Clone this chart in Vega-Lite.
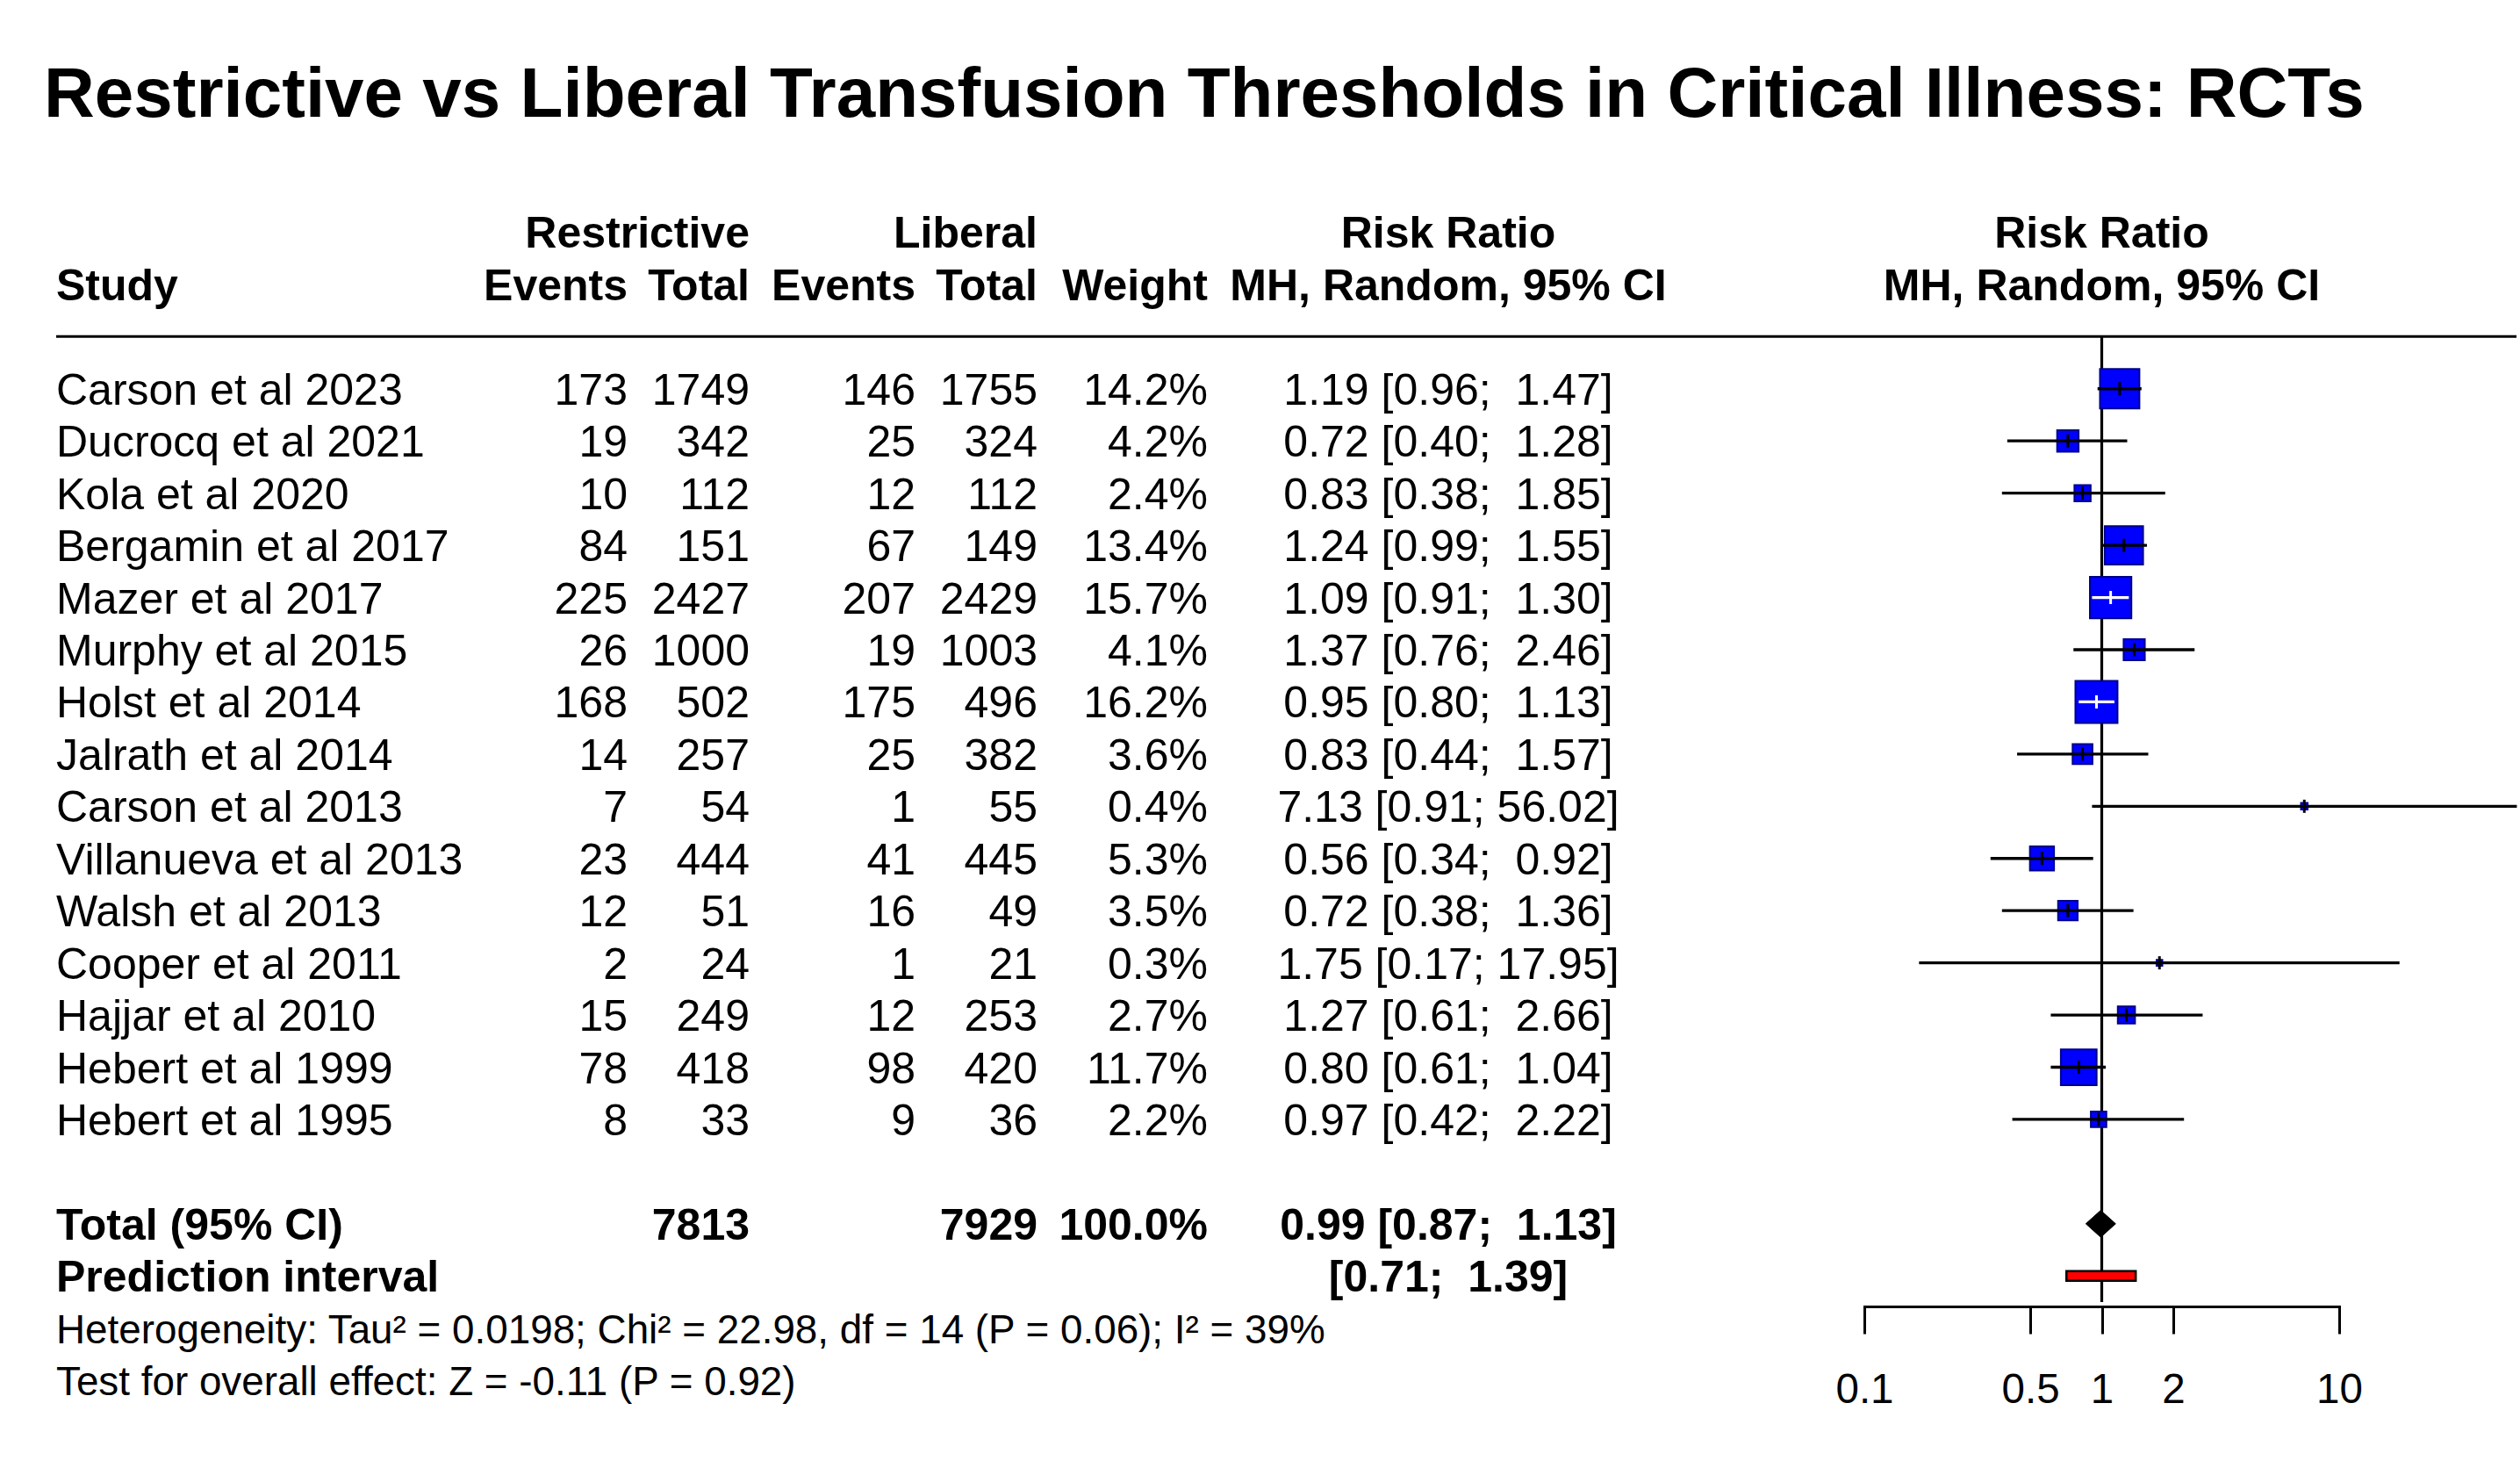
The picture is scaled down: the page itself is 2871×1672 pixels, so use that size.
{
  "$schema": "https://vega.github.io/schema/vega-lite/v6.json",
  "width": 2871,
  "height": 1288,
  "autosize": {"type": "none"},
  "padding": {"top": 200, "left": 0, "right": 0, "bottom": 184},
  "background": "white",
  "config": {"view": {"stroke": null}},
  "title": {
    "text": "Restrictive vs Liberal Transfusion Thresholds in Critical Illness: RCTs",
    "anchor": "start",
    "frame": "group",
    "dx": 50,
    "offset": 50,
    "font": "Liberation Sans",
    "fontSize": 80,
    "fontWeight": "bold",
    "color": "black"
  },
  "datasets": {
    "studies": [
      {"row": 1, "study": "Carson et al 2023", "ev_r": 173, "tot_r": 1749, "ev_l": 146, "tot_l": 1755, "weight": 14.2, "rr": 1.19, "lower": 0.96, "upper": 1.47},
      {"row": 2, "study": "Ducrocq et al 2021", "ev_r": 19, "tot_r": 342, "ev_l": 25, "tot_l": 324, "weight": 4.2, "rr": 0.72, "lower": 0.40, "upper": 1.28},
      {"row": 3, "study": "Kola et al 2020", "ev_r": 10, "tot_r": 112, "ev_l": 12, "tot_l": 112, "weight": 2.4, "rr": 0.83, "lower": 0.38, "upper": 1.85},
      {"row": 4, "study": "Bergamin et al 2017", "ev_r": 84, "tot_r": 151, "ev_l": 67, "tot_l": 149, "weight": 13.4, "rr": 1.24, "lower": 0.99, "upper": 1.55},
      {"row": 5, "study": "Mazer et al 2017", "ev_r": 225, "tot_r": 2427, "ev_l": 207, "tot_l": 2429, "weight": 15.7, "rr": 1.09, "lower": 0.91, "upper": 1.30},
      {"row": 6, "study": "Murphy et al 2015", "ev_r": 26, "tot_r": 1000, "ev_l": 19, "tot_l": 1003, "weight": 4.1, "rr": 1.37, "lower": 0.76, "upper": 2.46},
      {"row": 7, "study": "Holst et al 2014", "ev_r": 168, "tot_r": 502, "ev_l": 175, "tot_l": 496, "weight": 16.2, "rr": 0.95, "lower": 0.80, "upper": 1.13},
      {"row": 8, "study": "Jalrath et al 2014", "ev_r": 14, "tot_r": 257, "ev_l": 25, "tot_l": 382, "weight": 3.6, "rr": 0.83, "lower": 0.44, "upper": 1.57},
      {"row": 9, "study": "Carson et al 2013", "ev_r": 7, "tot_r": 54, "ev_l": 1, "tot_l": 55, "weight": 0.4, "rr": 7.13, "lower": 0.91, "upper": 56.02},
      {"row": 10, "study": "Villanueva et al 2013", "ev_r": 23, "tot_r": 444, "ev_l": 41, "tot_l": 445, "weight": 5.3, "rr": 0.56, "lower": 0.34, "upper": 0.92},
      {"row": 11, "study": "Walsh et al 2013", "ev_r": 12, "tot_r": 51, "ev_l": 16, "tot_l": 49, "weight": 3.5, "rr": 0.72, "lower": 0.38, "upper": 1.36},
      {"row": 12, "study": "Cooper et al 2011", "ev_r": 2, "tot_r": 24, "ev_l": 1, "tot_l": 21, "weight": 0.3, "rr": 1.75, "lower": 0.17, "upper": 17.95},
      {"row": 13, "study": "Hajjar et al 2010", "ev_r": 15, "tot_r": 249, "ev_l": 12, "tot_l": 253, "weight": 2.7, "rr": 1.27, "lower": 0.61, "upper": 2.66},
      {"row": 14, "study": "Hebert et al 1999", "ev_r": 78, "tot_r": 418, "ev_l": 98, "tot_l": 420, "weight": 11.7, "rr": 0.80, "lower": 0.61, "upper": 1.04},
      {"row": 15, "study": "Hebert et al 1995", "ev_r": 8, "tot_r": 33, "ev_l": 9, "tot_l": 36, "weight": 2.2, "rr": 0.97, "lower": 0.42, "upper": 2.22}
    ],
    "summary": [
      {"row": 17, "label": "Total (95% CI)", "tot_r": 7813, "tot_l": 7929, "weight": 100, "rr": 0.99, "lower": 0.87, "upper": 1.13},
      {"row": 18, "label": "Prediction interval", "lower": 0.71, "upper": 1.39}
    ],
    "headers": [
      {"row": -2, "label": "Restrictive", "col": "tot_r"},
      {"row": -2, "label": "Liberal", "col": "tot_l"},
      {"row": -2, "label": "Risk Ratio", "col": "rr"},
      {"row": -2, "label": "Risk Ratio", "col": "plot"},
      {"row": -1, "label": "Study", "col": "study"},
      {"row": -1, "label": "Events", "col": "ev_r"},
      {"row": -1, "label": "Total", "col": "tot_r"},
      {"row": -1, "label": "Events", "col": "ev_l"},
      {"row": -1, "label": "Total", "col": "tot_l"},
      {"row": -1, "label": "Weight", "col": "wt"},
      {"row": -1, "label": "MH, Random, 95% CI", "col": "rr"},
      {"row": -1, "label": "MH, Random, 95% CI", "col": "plot"}
    ],
    "notes": [
      {"row": 19, "label": "Heterogeneity: Tau² = 0.0198; Chi² = 22.98, df = 14 (P = 0.06); I² = 39%"},
      {"row": 20, "label": "Test for overall effect: Z = -0.11 (P = 0.92)"}
    ]
  },
  "layer": [
    {
      "layer": [
        {
          "data": {"values": [{}]},
          "mark": {"type": "rule", "strokeWidth": 3, "color": "black"},
          "encoding": {
            "x": {"datum": 0, "type": "quantitative", "scale": {"domain": [0, 1, 2, 3, 4, 5, 6, 7], "range": [64, 715, 854, 1043, 1182, 1376, 1650, 2867], "nice": false, "zero": false}, "axis": null},
            "x2": {"datum": 7},
            "y": {"datum": 0, "type": "quantitative", "scale": {"domain": [-3, 18.5], "reverse": true, "nice": false, "zero": false}, "axis": null}
          }
        },
        {
          "data": {"name": "headers"},
          "transform": [
            {"filter": "datum.col === 'study'"},
            {"calculate": "indexof(['study','ev_r','tot_r','ev_l','tot_l','wt','rr','end'], datum.col)", "as": "ci"}
          ],
          "mark": {"type": "text", "align": "left", "baseline": "middle", "dy": 3, "font": "Liberation Sans", "fontSize": 50, "fontWeight": "bold", "color": "black"},
          "encoding": {
            "x": {"field": "ci", "type": "quantitative", "axis": null},
            "y": {"field": "row", "type": "quantitative", "scale": {"domain": [-3, 18.5], "reverse": true, "nice": false, "zero": false}, "axis": null},
            "text": {"field": "label", "type": "nominal"}
          }
        },
        {
          "data": {"name": "headers"},
          "transform": [
            {"filter": "indexof(['ev_r','tot_r','ev_l','tot_l','wt'], datum.col) >= 0"},
            {"calculate": "indexof(['study','ev_r','tot_r','ev_l','tot_l','wt','rr','end'], datum.col)", "as": "ci"}
          ],
          "mark": {"type": "text", "align": "right", "baseline": "middle", "dy": 3, "font": "Liberation Sans", "fontSize": 50, "fontWeight": "bold", "color": "black"},
          "encoding": {
            "x": {"field": "ci", "type": "quantitative", "axis": null},
            "y": {"field": "row", "type": "quantitative", "scale": {"domain": [-3, 18.5], "reverse": true, "nice": false, "zero": false}, "axis": null},
            "text": {"field": "label", "type": "nominal"}
          }
        },
        {
          "data": {"name": "headers"},
          "transform": [
            {"filter": "datum.col === 'rr'"},
            {"calculate": "indexof(['study','ev_r','tot_r','ev_l','tot_l','wt','rr','end'], datum.col)", "as": "ci"}
          ],
          "mark": {"type": "text", "align": "center", "baseline": "middle", "dy": 3, "font": "Liberation Sans", "fontSize": 50, "fontWeight": "bold", "color": "black"},
          "encoding": {
            "x": {"field": "ci", "type": "quantitative", "axis": null},
            "y": {"field": "row", "type": "quantitative", "scale": {"domain": [-3, 18.5], "reverse": true, "nice": false, "zero": false}, "axis": null},
            "text": {"field": "label", "type": "nominal"}
          }
        },
        {
          "data": {"name": "studies"},
          "mark": {"type": "text", "align": "left", "baseline": "middle", "dy": 3, "font": "Liberation Sans", "fontSize": 50, "color": "black"},
          "encoding": {
            "x": {"datum": 0, "type": "quantitative", "axis": null},
            "y": {"field": "row", "type": "quantitative", "scale": {"domain": [-3, 18.5], "reverse": true, "nice": false, "zero": false}, "axis": null},
            "text": {"field": "study", "type": "nominal"}
          }
        },
        {
          "data": {"name": "studies"},
          "transform": [
            {"calculate": "format(datum.weight, '.1f') + '%'", "as": "wt"},
            {"fold": ["ev_r", "tot_r", "ev_l", "tot_l", "wt"], "as": ["col", "val"]},
            {"calculate": "indexof(['study','ev_r','tot_r','ev_l','tot_l','wt','rr','end'], datum.col)", "as": "ci"}
          ],
          "mark": {"type": "text", "align": "right", "baseline": "middle", "dy": 3, "font": "Liberation Sans", "fontSize": 50, "color": "black"},
          "encoding": {
            "x": {"field": "ci", "type": "quantitative", "axis": null},
            "y": {"field": "row", "type": "quantitative", "scale": {"domain": [-3, 18.5], "reverse": true, "nice": false, "zero": false}, "axis": null},
            "text": {"field": "val", "type": "nominal"}
          }
        },
        {
          "data": {"name": "studies"},
          "transform": [
            {"calculate": "format(datum.rr, '.2f') + ' [' + format(datum.lower, '.2f') + '; ' + (datum.upper < 10 ? '\u00a0' : '') + format(datum.upper, '.2f') + ']'", "as": "ci_txt"}
          ],
          "mark": {"type": "text", "align": "center", "baseline": "middle", "dy": 3, "font": "Liberation Sans", "fontSize": 50, "color": "black"},
          "encoding": {
            "x": {"datum": 6, "type": "quantitative", "axis": null},
            "y": {"field": "row", "type": "quantitative", "scale": {"domain": [-3, 18.5], "reverse": true, "nice": false, "zero": false}, "axis": null},
            "text": {"field": "ci_txt", "type": "nominal"}
          }
        },
        {
          "data": {"name": "summary"},
          "mark": {"type": "text", "align": "left", "baseline": "middle", "dy": 3, "font": "Liberation Sans", "fontSize": 50, "fontWeight": "bold", "color": "black"},
          "encoding": {
            "x": {"datum": 0, "type": "quantitative", "axis": null},
            "y": {"field": "row", "type": "quantitative", "scale": {"domain": [-3, 18.5], "reverse": true, "nice": false, "zero": false}, "axis": null},
            "text": {"field": "label", "type": "nominal"}
          }
        },
        {
          "data": {"name": "summary"},
          "transform": [
            {"filter": "isValid(datum.tot_r)"},
            {"calculate": "format(datum.weight, '.1f') + '%'", "as": "wt"},
            {"fold": ["tot_r", "tot_l", "wt"], "as": ["col", "val"]},
            {"calculate": "indexof(['study','ev_r','tot_r','ev_l','tot_l','wt','rr','end'], datum.col)", "as": "ci"}
          ],
          "mark": {"type": "text", "align": "right", "baseline": "middle", "dy": 3, "font": "Liberation Sans", "fontSize": 50, "fontWeight": "bold", "color": "black"},
          "encoding": {
            "x": {"field": "ci", "type": "quantitative", "axis": null},
            "y": {"field": "row", "type": "quantitative", "scale": {"domain": [-3, 18.5], "reverse": true, "nice": false, "zero": false}, "axis": null},
            "text": {"field": "val", "type": "nominal"}
          }
        },
        {
          "data": {"name": "summary"},
          "transform": [
            {"calculate": "(isValid(datum.rr) ? format(datum.rr, '.2f') + ' ' : '') + '[' + format(datum.lower, '.2f') + '; ' + (datum.upper < 10 ? '\u00a0' : '') + format(datum.upper, '.2f') + ']'", "as": "ci_txt"}
          ],
          "mark": {"type": "text", "align": "center", "baseline": "middle", "dy": 3, "font": "Liberation Sans", "fontSize": 50, "fontWeight": "bold", "color": "black"},
          "encoding": {
            "x": {"datum": 6, "type": "quantitative", "axis": null},
            "y": {"field": "row", "type": "quantitative", "scale": {"domain": [-3, 18.5], "reverse": true, "nice": false, "zero": false}, "axis": null},
            "text": {"field": "ci_txt", "type": "nominal"}
          }
        },
        {
          "data": {"name": "notes"},
          "mark": {"type": "text", "align": "left", "baseline": "middle", "dy": 3, "font": "Liberation Sans", "fontSize": 45.8, "color": "black"},
          "encoding": {
            "x": {"datum": 0, "type": "quantitative", "axis": null},
            "y": {"field": "row", "type": "quantitative", "scale": {"domain": [-3, 18.5], "reverse": true, "nice": false, "zero": false}, "axis": null},
            "text": {"field": "label", "type": "nominal"}
          }
        }
      ]
    },
    {
      "layer": [
        {
          "data": {"values": [{}]},
          "mark": {"type": "rule", "strokeWidth": 3.2, "color": "black"},
          "encoding": {
            "x": {
              "datum": 1, "type": "quantitative",
              "scale": {"type": "log", "domain": [0.1, 10], "range": [2124, 2665], "nice": false},
              "axis": {"values": [0.1, 0.5, 1, 2, 10], "format": "~g", "title": null, "grid": false, "domainColor": "black", "domainWidth": 3, "domainCap": "square", "tickColor": "black", "tickWidth": 3, "tickSize": 31, "labelFont": "Liberation Sans", "labelFontSize": 47.5, "labelColor": "black", "labelPadding": 40, "labelOverlap": false, "labelFlush": false, "labelBound": false}
            },
            "y": {"datum": 0, "type": "quantitative", "scale": {"domain": [-3, 18.5], "reverse": true, "nice": false, "zero": false}, "axis": null},
            "y2": {"datum": 18.5}
          }
        },
        {
          "data": {"name": "studies"},
          "mark": {"type": "point", "shape": "square", "filled": true, "fill": "#0000FF", "stroke": "#00008B", "strokeWidth": 2, "opacity": 1},
          "encoding": {
            "x": {"field": "rr", "type": "quantitative"},
            "y": {"field": "row", "type": "quantitative", "scale": {"domain": [-3, 18.5], "reverse": true, "nice": false, "zero": false}, "axis": null},
            "size": {"field": "weight", "type": "quantitative", "scale": {"type": "linear", "domain": [0, 100], "range": [0, 14200]}, "legend": null}
          }
        },
        {
          "data": {"name": "studies"},
          "mark": {"type": "rule", "strokeWidth": 3.3},
          "encoding": {
            "x": {"field": "lower", "type": "quantitative"},
            "x2": {"field": "upper"},
            "y": {"field": "row", "type": "quantitative", "scale": {"domain": [-3, 18.5], "reverse": true, "nice": false, "zero": false}, "axis": null},
            "color": {"condition": {"test": "datum.study === 'Mazer et al 2017' || datum.study === 'Holst et al 2014'", "value": "white"}, "value": "black"}
          }
        },
        {
          "data": {"name": "studies"},
          "mark": {"type": "tick", "orient": "vertical", "size": 15, "thickness": 3, "opacity": 1},
          "encoding": {
            "x": {"field": "rr", "type": "quantitative"},
            "y": {"field": "row", "type": "quantitative", "scale": {"domain": [-3, 18.5], "reverse": true, "nice": false, "zero": false}, "axis": null},
            "color": {"condition": {"test": "datum.study === 'Mazer et al 2017' || datum.study === 'Holst et al 2014'", "value": "white"}, "value": "black"}
          }
        },
        {
          "data": {"name": "summary"},
          "transform": [{"filter": "isValid(datum.rr)"}],
          "mark": {"type": "point", "shape": "M-1,0L0,-0.9L1,0L0,0.9Z", "filled": true, "fill": "black", "stroke": "black", "strokeWidth": 1, "opacity": 1, "size": 1156},
          "encoding": {
            "x": {"field": "rr", "type": "quantitative"},
            "y": {"field": "row", "type": "quantitative", "scale": {"domain": [-3, 18.5], "reverse": true, "nice": false, "zero": false}, "axis": null}
          }
        },
        {
          "data": {"name": "summary"},
          "transform": [{"filter": "!isValid(datum.rr)"}],
          "mark": {"type": "bar", "height": 11, "fill": "#FF0000", "stroke": "black", "strokeWidth": 2.5, "opacity": 1},
          "encoding": {
            "x": {"field": "lower", "type": "quantitative"},
            "x2": {"field": "upper"},
            "y": {"field": "row", "type": "quantitative", "scale": {"domain": [-3, 18.5], "reverse": true, "nice": false, "zero": false}, "axis": null}
          }
        },
        {
          "data": {"name": "headers"},
          "transform": [{"filter": "datum.col === 'plot'"}],
          "mark": {"type": "text", "align": "center", "baseline": "middle", "dy": 3, "font": "Liberation Sans", "fontSize": 50, "fontWeight": "bold", "color": "black"},
          "encoding": {
            "x": {"datum": 1, "type": "quantitative"},
            "y": {"field": "row", "type": "quantitative", "scale": {"domain": [-3, 18.5], "reverse": true, "nice": false, "zero": false}, "axis": null},
            "text": {"field": "label", "type": "nominal"}
          }
        }
      ]
    }
  ],
  "resolve": {"scale": {"x": "independent"}, "axis": {"x": "independent"}}
}
